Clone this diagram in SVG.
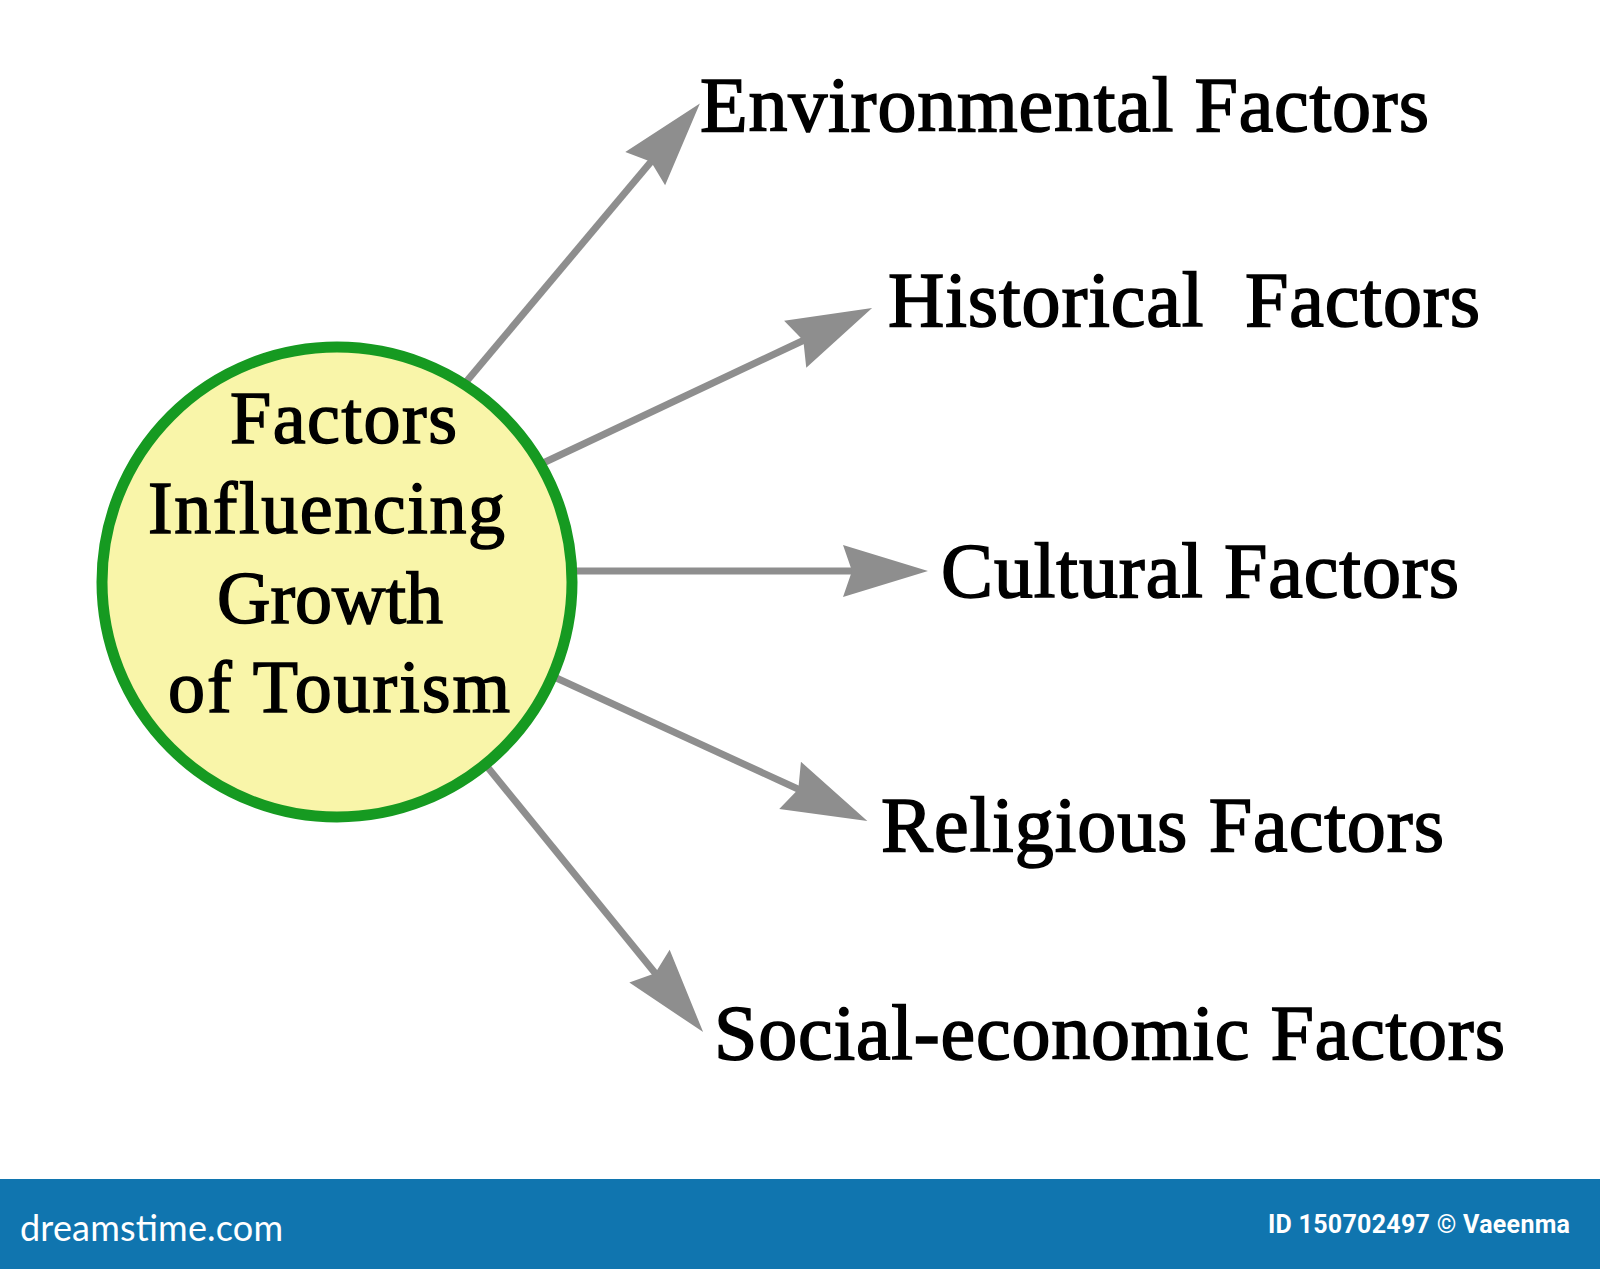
<svg xmlns="http://www.w3.org/2000/svg" width="1600" height="1269" viewBox="0 0 1600 1269">
  <defs>
    <marker id="ah" markerUnits="userSpaceOnUse" viewBox="-24 -27 88 54" refX="0" refY="0" markerWidth="88" markerHeight="54" orient="auto" overflow="visible">
      <path d="M62,0 L-23,-26 L-14,0 L-23,26 Z" fill="#8e8e8e"/>
    </marker>
    <style>
      .conn { stroke: #8e8e8e; stroke-width: 7; fill: none; marker-end: url(#ah); }
      .lbl { font-family: "Liberation Serif", "Times New Roman", serif; font-size: 78px; fill: #000; stroke: #000; stroke-width: 1.6px; white-space: pre; }
      .ctr { font-family: "Liberation Serif", "Times New Roman", serif; font-size: 74px; fill: #000; stroke: #000; stroke-width: 1.5px; }
    </style>
  </defs>
  <rect width="1600" height="1269" fill="#ffffff"/>

  <g id="connectors">
    <line class="conn" x1="466" y1="382" x2="660" y2="151"/>
    <line class="conn" x1="541" y1="464" x2="816" y2="334.5"/>
    <line class="conn" x1="570" y1="571" x2="866" y2="571"/>
    <line class="conn" x1="552" y1="676" x2="811" y2="795"/>
    <line class="conn" x1="485" y1="764" x2="664" y2="984"/>
  </g>

  <g id="center">
    <circle cx="337" cy="582" r="235" fill="#f9f5a9" stroke="#169a21" stroke-width="11"/>
    <text class="ctr" x="230" y="443" textLength="227">Factors</text>
    <text class="ctr" x="148" y="533" textLength="357">Influencing</text>
    <text class="ctr" x="217" y="623" textLength="226">Growth</text>
    <text class="ctr" x="168" y="712" textLength="342">of Tourism</text>
  </g>

  <g id="environmental">
    <text class="lbl" x="700" y="131" textLength="729">Environmental Factors</text>
  </g>
  <g id="historical">
    <text class="lbl" x="888" y="326" textLength="592">Historical  Factors</text>
  </g>
  <g id="cultural">
    <text class="lbl" x="941" y="597" textLength="518">Cultural Factors</text>
  </g>
  <g id="religious">
    <text class="lbl" x="881" y="851" textLength="563">Religious Factors</text>
  </g>
  <g id="social">
    <text class="lbl" x="714" y="1059" textLength="791">Social-economic Factors</text>
  </g>

  <g id="footer">
    <rect x="0" y="1179" width="1600" height="90" fill="#1075af"/>
    <text x="20" y="1241" font-family="Lato, 'Open Sans', sans-serif" font-size="36" fill="#ffffff" textLength="263">dreamstime.com</text>
    <text x="1268" y="1233" font-family="Roboto, 'Liberation Sans', sans-serif" font-weight="bold" font-size="25" fill="#ffffff" textLength="302">ID 150702497 © Vaeenma</text>
  </g>
</svg>
